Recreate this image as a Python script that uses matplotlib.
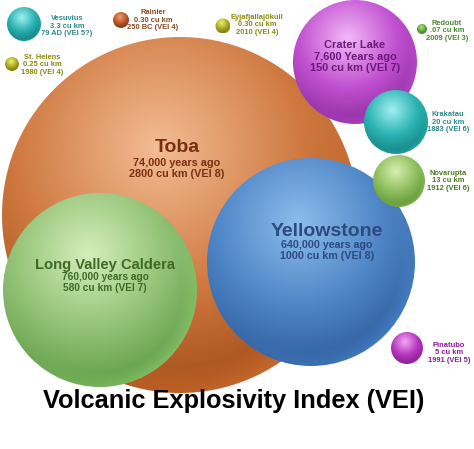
import numpy as np
import matplotlib.pyplot as plt
from matplotlib.patches import Circle
from matplotlib.colors import to_rgb

plt.rcParams['font.family'] = ['Liberation Sans', 'DejaVu Sans']

# volcano data
names = ['Toba', 'Long Valley Caldera', 'Yellowstone', 'Crater Lake', 'Krakatau',
         'Novarupta', 'Pinatubo', 'Vesuvius', 'Rainier', 'St. Helens',
         'Eyjafjallajökull', 'Redoubt']
volumes = ['2800', '580', '1000', '150', '20', '13', '5', '3.3', '0.30', '0.25', '0.30', '.07']
when = ['74,000 years ago', '760,000 years ago', '640,000 years ago', '7,600 Years ago',
        '1883', '1912', '1991', '79 AD', '250 BC', '1980', '2010', '2009']
vei = ['8', '7', '8', '7', '6', '6', '5', '5?', '4', '4', '4', '3']

# layout in pixels (x, y, radius), drawn in this order
layout = [(180, 215, 178), (100, 290, 97), (311, 262, 104), (355, 62, 62),
          (396, 122, 32), (399, 181, 26), (407, 348, 16), (24, 24, 17),
          (121, 20, 8), (12, 64, 7), (223, 26, 7.5), (422, 29, 5)]

# (highlight, base, edge, text colour)
colours = [('#f3bd94', '#d07a42', '#a04a14', '#7a3010'),
           ('#d6eebc', '#92c276', '#5c9a42', '#3e6a26'),
           ('#8cbdec', '#4f86c6', '#2c5a9a', '#2c4a80'),
           ('#f4b8f8', '#c050d0', '#8a2a9c', '#6a1a7a'),
           ('#a0f0f0', '#2ab2b2', '#14807e', '#2a8a8a'),
           ('#d8eeb0', '#8ebe5e', '#5e9234', '#4e7a26'),
           ('#f4a8f4', '#b838c0', '#7e1a8a', '#8a1a9a'),
           ('#a0f0f0', '#28b0b0', '#127c7c', '#2a8a8a'),
           ('#f0a070', '#b8562a', '#7c3010', '#8a4a20'),
           ('#eef070', '#aaaa24', '#70700e', '#8a8a10'),
           ('#eef070', '#aaaa24', '#70700e', '#8a8a10'),
           ('#b0e880', '#5ea83a', '#3a7a22', '#4a8a30')]

W, H = 474, 449
fig = plt.figure(figsize=(W / 100, H / 100), dpi=100)
ax = fig.add_axes([0, 0, 1, 1])
ax.set_xlim(0, W)
ax.set_ylim(H, 0)
ax.set_aspect('equal')
ax.axis('off')

n = 300
u, v = np.meshgrid(np.linspace(-1, 1, n), np.linspace(-1, 1, n))


def sphere(x, y, r, hi, base, edge, z):
    d = np.sqrt((u + 0.12) ** 2 + (v + 0.38) ** 2) / 1.45
    d = np.clip(d, 0, 1)
    hi, base, edge = [np.array(to_rgb(c)) for c in (hi, base, edge)]
    t1 = np.clip(d / 0.55, 0, 1)[..., None]
    t2 = np.clip((d - 0.55) / 0.45, 0, 1)[..., None]
    img = hi * (1 - t1) + base * t1
    img = img * (1 - t2) + edge * t2
    # soft rim light on lower right
    rr = np.sqrt(u ** 2 + v ** 2)
    rim = np.clip((rr - 0.85) / 0.15, 0, 1) * np.clip((u + v) / 1.4, 0, 1)
    img = img * (1 - 0.35 * rim[..., None]) + 0.35 * rim[..., None] * base * 1.25
    img = np.clip(img, 0, 1)
    im = ax.imshow(img, extent=(x - r, x + r, y + r, y - r), origin='upper', zorder=z,
                   interpolation='bilinear')
    im.set_clip_path(Circle((x, y), r, transform=ax.transData))


for i, (x, y, r) in enumerate(layout):
    hi, base, edge, tc = colours[i]
    sphere(x, y, r, hi, base, edge, i + 1)


def lines(x, ys, texts, sizes, color):
    for yy, t, s in zip(ys, texts, sizes):
        ax.text(x, yy, t, ha='center', va='center', fontsize=s, fontweight='bold',
                color=color, zorder=50)


# big bubbles: name, then two smaller lines
big = {0: (177, [148, 163, 174], 14, 7.8),
       1: (105, [265, 277, 288], 10.6, 7.3),
       2: (327, [232, 245, 256], 14, 7.7)}
for i, (tx, ys, fs1, fs2) in big.items():
    lines(tx, ys, [names[i], when[i], '%s cu km (VEI %s)' % (volumes[i], vei[i])],
          [fs1, fs2, fs2], colours[i][3])

# crater lake: three equal lines
lines(355, [45, 57, 68], [names[3], when[3], '%s cu km (VEI %s)' % (volumes[3], vei[3])],
      [7.9] * 3, colours[3][3])

# small labels beside the bubbles
small = {4: (448, 122), 5: (448, 181), 6: (449, 353), 7: (67, 26), 8: (153, 20),
         9: (42, 65), 10: (257, 25), 11: (447, 31)}
for i, (tx, ty) in small.items():
    lines(tx, [ty - 7.5, ty, ty + 7.5],
          [names[i], '%s cu km' % volumes[i], '%s (VEI %s)' % (when[i], vei[i])],
          [5.4] * 3, colours[i][3])

ax.text(234, 401, 'Volcanic Explosivity Index (VEI)', ha='center', va='center',
        fontsize=18.3, fontweight='bold', color='black', zorder=50)

fig.savefig('out.png', dpi=100, facecolor='white')
